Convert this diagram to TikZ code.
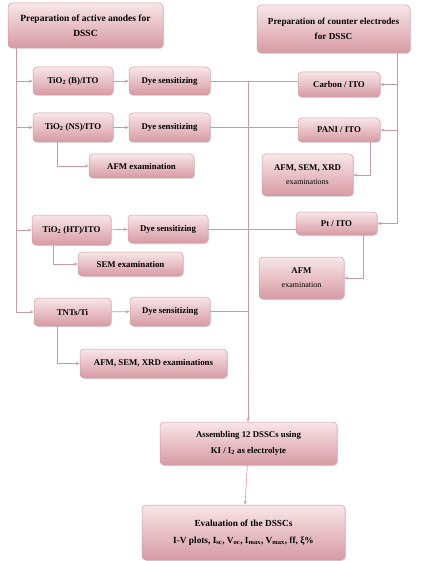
\documentclass[tikz,border=0pt]{standalone}
\usepackage{fontspec}
\setmainfont{Liberation Serif}
\usetikzlibrary{shadows,arrows.meta}
\definecolor{boxtop}{HTML}{F8E6E8}
\definecolor{boxbot}{HTML}{D79AA3}
\definecolor{boxline}{HTML}{D39EA6}
\definecolor{conn}{HTML}{C99CA5}
\tikzset{
  box/.style={rounded corners=4pt, draw=boxline, line width=0.5pt,
    top color=boxtop, bottom color=boxbot, align=center,
    font=\bfseries\fontsize{8.8}{11}\selectfont, inner sep=1pt,
    drop shadow={shadow xshift=1pt, shadow yshift=-1pt, opacity=0.25, fill=gray}},
  wire/.style={draw=conn, line width=0.6pt},
  arr/.style={wire, -{Stealth[length=4pt,width=3pt]}},
}
\newcommand{\sbs}[1]{\textsubscript{#1}}
\begin{document}
\begin{tikzpicture}[x=1pt,y=-1pt]
\useasboundingbox (0,0) rectangle (430,561);
\fill[white] (0,0) rectangle (430,561);
% boxes
\node[box, minimum width=155, minimum height=45, font=\bfseries\fontsize{9.5}{15}\selectfont] (anode) at (85.5,25.5) {Preparation of active anodes for\\DSSC};
\node[box, minimum width=153, minimum height=48, font=\bfseries\fontsize{9.2}{15}\selectfont] (counter) at (333.5,29) {Preparation of counter electrodes\\for DSSC};
\node[box, minimum width=80, minimum height=28] (t1) at (73,81) {TiO\sbs{2} (B)/ITO};
\node[box, minimum width=81, minimum height=28] (d1) at (169.5,81) {Dye sensitizing};
\node[box, minimum width=80, minimum height=29] (t2) at (73,127.5) {TiO\sbs{2} (NS)/ITO};
\node[box, minimum width=81, minimum height=29] (d2) at (169.5,127.5) {Dye sensitizing};
\node[box, minimum width=105, minimum height=24] (afm1) at (141.5,166) {AFM examination};
\node[box, minimum width=79, minimum height=30] (t3) at (71.5,230) {TiO\sbs{2} (HT)/ITO};
\node[box, minimum width=80, minimum height=28] (d3) at (168,229) {Dye sensitizing};
\node[box, minimum width=105, minimum height=24] (sem) at (130.5,264) {SEM examination};
\node[box, minimum width=77, minimum height=28] (t4) at (72.5,312) {TNTs/Ti};
\node[box, minimum width=80, minimum height=29] (d4) at (170,311.5) {Dye sensitizing};
\node[box, minimum width=147, minimum height=29] (afm4) at (153.5,363.5) {AFM, SEM, XRD examinations};
\node[box, minimum width=82, minimum height=25] (carbon) at (339,84.5) {Carbon / ITO};
\node[box, minimum width=82, minimum height=24] (pani) at (339,130) {PANI / ITO};
\node[box, minimum width=91, minimum height=42, font=\bfseries\fontsize{8.8}{14}\selectfont] (afm2) at (307.5,175) {AFM, SEM, XRD\\{\mdseries\fontsize{8}{10}\selectfont examinations}};
\node[box, minimum width=81, minimum height=23] (pt) at (336.5,223.5) {Pt / ITO};
\node[box, minimum width=85, minimum height=42, font=\bfseries\fontsize{8.8}{14}\selectfont] (afm3) at (301.5,278) {AFM\\{\mdseries\fontsize{8}{10}\selectfont examination}};
\node[box, minimum width=177, minimum height=43, font=\bfseries\fontsize{8.8}{16}\selectfont] (assemble) at (248.5,443.5) {Assembling 12 DSSCs using\\KI / I\sbs{2} as electrolyte};
\node[box, minimum width=203, minimum height=55, font=\bfseries\fontsize{9.3}{17}\selectfont] (eval) at (243.5,532.5) {Evaluation of the DSSCs\\I-V plots, I\sbs{sc}, V\sbs{oc}, I\sbs{max}, V\sbs{max}, ff, ξ\%};
% left bus
\coordinate (ltop) at (16,48);
\coordinate (lbot) at (16,312);
\draw[wire] (ltop) -- (lbot);
\foreach \n in {t1,t2,t3,t4} \draw[arr] (ltop |- \n.west) -- (\n.west);
\foreach \a/\b in {t1/d1,t2/d2,t3/d3,t4/d4} \draw[arr] (\a) -- (\b);
\draw[arr] (t2.south west) ++(25,0) |- (afm1.west);
\draw[arr] (t3.south west) ++(22,0) |- (sem.west);
\draw[arr] (t4.south west) ++(24,0) |- (afm4.west);
% middle bus
\coordinate (mtop) at (248,81);
\draw[wire] (d1.east) -- (d1.east -| carbon.west);
\draw[wire] (d2.east) -- (d2.east -| pani.west);
\draw[wire] (d3.east) -- (d3.east -| pt.west);
\draw[wire] (d4.east) -- (d4.east -| mtop);
\draw[arr] (mtop) -- (mtop |- assemble.north);
\draw[arr] (assemble) -- (eval);
% right bus
\coordinate (rtop) at (397,53);
\draw[wire] (rtop) -- (rtop |- pt.east);
\foreach \n in {carbon,pani,pt} \draw[arr] (rtop |- \n.east) -- (\n.east);
\draw[arr] (pani.south east) ++(-10,0) |- (afm2.east);
\draw[arr] (pt.south east) ++(-14,0) |- (afm3.east);
\end{tikzpicture}
\end{document}
